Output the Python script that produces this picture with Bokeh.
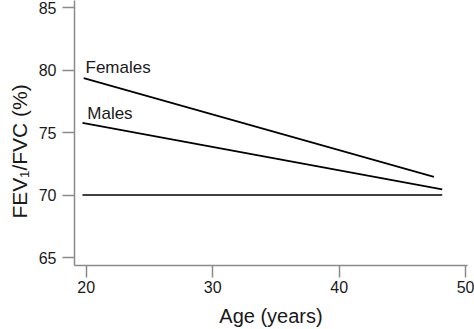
from bokeh.plotting import figure
from bokeh.models import Range1d, FixedTicker, Title
from bokeh.core.properties import value
from bokeh.embed import file_html
from bokeh.resources import INLINE

# Data
female_age = [19.8, 47.5]
female_ratio = [79.35, 71.45]
male_age = [19.7, 48.15]
male_ratio = [75.77, 70.45]
ref_age = [19.7, 48.15]
ref_ratio = [70.0, 70.0]
x_ticks = [20, 30, 40, 50]
y_ticks = [65, 70, 75, 80, 85]
label_text = ["Females", "Males"]
label_x = [19.94, 20.08]
label_y = [79.83, 76.14]
x_title = "Age (years)"
y_title = "FEV\u2081/FVC (%)"

FONT = "Liberation Sans"
AXIS_COLOR = "#8a8a8a"
TEXT_COLOR = "#1a1a1a"

p = figure(width=474, height=329, output_backend="svg", toolbar_location=None,
           x_range=Range1d(19.07, 50.15), y_range=Range1d(64.36, 85.56),
           min_border_left=74, min_border_right=7, min_border_top=0, min_border_bottom=63)
p.outline_line_color = None
p.grid.visible = False
p.background_fill_color = "white"
p.border_fill_color = "white"

for ax in (p.xaxis[0], p.yaxis[0]):
    ax.axis_line_color = AXIS_COLOR
    ax.axis_line_width = 1.5
    ax.major_tick_line_color = AXIS_COLOR
    ax.major_tick_line_width = 1.5
    ax.minor_tick_line_color = None
    ax.major_tick_in = 0
    ax.major_tick_out = 12
    ax.major_label_text_font = FONT
    ax.major_label_text_font_size = "16px"
    ax.major_label_text_color = TEXT_COLOR
    ax.axis_label_text_font = FONT
    ax.axis_label_text_font_style = "normal"
    ax.axis_label_text_color = TEXT_COLOR

p.xaxis[0].ticker = FixedTicker(ticks=x_ticks)
p.yaxis[0].ticker = FixedTicker(ticks=y_ticks)
p.xaxis[0].major_label_standoff = 3
p.yaxis[0].major_label_standoff = 6
p.xaxis[0].axis_label = x_title
p.xaxis[0].axis_label_text_font_size = "20px"
p.xaxis[0].axis_label_standoff = 9

# y-axis title as a left-side title, placed to match the reference
p.add_layout(Title(text=y_title, align="left", offset=47, standoff=10,
                   text_font=FONT, text_font_size="21px", text_font_style="normal",
                   text_color=TEXT_COLOR), "left")

p.line(female_age, female_ratio, line_color="black", line_width=1.6)
p.line(male_age, male_ratio, line_color="black", line_width=1.6)
p.line(ref_age, ref_ratio, line_color="black", line_width=1.6)

p.text(x=label_x, y=label_y, text=label_text, text_font=value(FONT),
       text_font_size="17px", text_color=TEXT_COLOR, text_baseline="bottom",
       text_align="left", y_offset=5)

open("out.html", "w").write(file_html(p, INLINE))
